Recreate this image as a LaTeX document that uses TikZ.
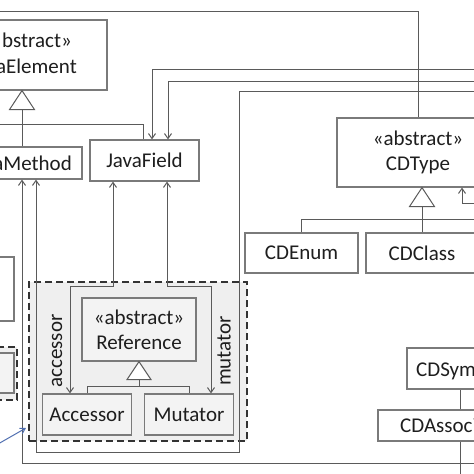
\documentclass[tikz,border=0pt]{standalone}
\usepackage{fontspec}
\setmainfont{Carlito}
\usetikzlibrary{arrows.meta,calc}
\definecolor{boxline}{HTML}{7A7A7A}
\definecolor{connline}{HTML}{5A5A5A}
\definecolor{txtcol}{HTML}{1E1E1E}
\definecolor{panelfill}{HTML}{EFEFEF}
\definecolor{boxfill}{HTML}{F3F3F3}
\definecolor{bluearrow}{HTML}{4F6EB0}
\definecolor{dashcol}{HTML}{333333}
\begin{document}
\begin{tikzpicture}[x=1pt,y=-1pt,
  box/.style={draw=boxline, line width=1.2pt, fill=white, inner sep=0pt, text=txtcol,
    font=\fontsize{21}{24.8}\selectfont, align=center},
  graybox/.style={box, fill=boxfill},
  txt/.style={inner sep=0pt, text=txtcol, font=\fontsize{21}{24.8}\selectfont},
  conn/.style={draw=connline, line width=1pt},
  arr/.style={conn, -{Straight Barb[length=5pt,width=7pt]}},
  biarr/.style={conn, {Straight Barb[length=5pt,width=7pt]}-{Straight Barb[length=5pt,width=7pt]}},
  panelbox/.style={draw=dashcol, line width=2pt, dash pattern=on 7pt off 4pt, fill=panelfill, inner sep=0pt},
  gentri/.style={draw=connline, line width=1pt, fill=white},
  bluearr/.style={draw=bluearrow, line width=1pt, -{Straight Barb[length=5pt,width=6pt]}}
]
\useasboundingbox (0,0) rectangle (474,474);
\clip (0,0) rectangle (474,474);

% containers
\node[panelbox, minimum width=218pt, minimum height=159pt] (panel) at (138,361.5) {};
\node[panelbox, minimum width=77pt, minimum height=53pt] (lpanel) at (-21.5,373.5) {};

% free ends
\coordinate (offTop) at (-5,11);
\coordinate (offGen) at (-5,124);
\coordinate (offR1) at (480,69);
\coordinate (offR2) at (480,81);
\coordinate (offR3) at (480,91);
\coordinate (bendR3) at (239,452);
\coordinate (offR4) at (480,463);
\coordinate (offR5) at (480,203);
\coordinate (offGen2) at (480,219);
\coordinate (offBot) at (460,480);
\coordinate (blueStart) at (-2,444);

% boxes
\node[box, minimum width=164pt, minimum height=70pt] (jelem) at (25,55) {};
\node[box, minimum width=120pt, minimum height=32pt] (jmeth) at (22,163) {};
\node[box, minimum width=109pt, minimum height=41pt] (jfield) at (144.5,160.5) {JavaField};
\node[box, minimum width=162pt, minimum height=69pt] (cdtype) at (418,152.5) {«abstract»\\CDType};
\node[box, minimum width=113pt, minimum height=40pt] (cdenum) at (301.5,253) {CDEnum};
\node[box, minimum width=112pt, minimum height=40pt] (cdclass) at (422,253) {CDClass};
\node[box, minimum width=133pt, minimum height=41pt] (cdsym) at (473.5,368.5) {};
\node[box, minimum width=162pt, minimum height=31pt] (cdassoc) at (459,425.5) {};
\node[box, minimum width=74pt, minimum height=64pt] (lbox) at (-23,289) {};
\node[graybox, minimum width=74pt, minimum height=40pt] (lgray) at (-23,373) {};

% visible text of cut boxes
\node[txt, anchor=base east] (jelemA) at (72,47) {bstract»};
\node[txt, anchor=base east] (jelemB) at (77,73) {aElement};
\node[txt, anchor=base east] (jmethT) at (72,170) {aMethod};
\node[txt, anchor=base west] (cdsymT) at (416,376) {CDSym};
\node[txt, anchor=base west] (cdassocT) at (400,432.5) {CDAssoci};

% connectors (drawn over the panel)
\draw[conn] (offTop) -| (cdtype.north);
\draw[conn] (offGen) -| ($(jfield.north)+(-1.5,0)$);
\draw[arr] (offR1) -| ($(jfield.north)+(7.5,0)$);
\draw[arr] (offR2) -| ($(jfield.north)+(23.5,0)$);
\draw[arr] (offR3) -| (bendR3) -| ($(jmeth.south)+(14,0)$);
\draw[arr] (offR4) -| (jmeth.south);
\draw[arr] (offR5) -| ($(cdtype.south)+(44,0)$);
\draw[conn] ($(cdassoc.north)+(1,0)$) -- ($(cdsym.south)+(-13.5,0)$);
\draw[conn] ($(cdassoc.south)+(1,0)$) -- (offBot);
\draw[bluearr] (blueStart) -- ($(panel.west)+(-2,66.5)$);

% generalization JavaElement
\draw[conn] (jmeth.north) -- (jmeth.north |- jelem.south);
\draw[gentri] (jmeth.north |- jelem.south) -- ++(-12.5,19) -- ++(25,0) -- cycle;

% generalization CDType
\coordinate (cdApex) at ($(cdtype.south)+(4,0)$);
\draw[conn] (cdclass.north) -- (cdApex);
\draw[conn] (cdenum.north) |- (offGen2);
\draw[gentri] (cdApex) -- ++(-12.5,19) -- ++(25,0) -- cycle;

% inner boxes of the panel
\node[graybox, minimum width=114pt, minimum height=63pt] (ref) at (139,329.5) {«abstract»\\Reference};
\node[graybox, minimum width=89pt, minimum height=41pt] (acc) at (87,414.5) {Accessor};
\node[graybox, minimum width=89pt, minimum height=41pt] (mut) at (189,414.5) {Mutator};

% generalization Reference
\draw[conn] (ref.south) -- ++(0,25) coordinate (refJoin);
\draw[conn] (acc.north) |- (refJoin) -| (mut.north);
\draw[gentri] (ref.south) -- ++(-12,18) -- ++(24,0) -- cycle;

% accessor / mutator associations
\draw[biarr] ($(jfield.south)+(-31.5,0)$) -- ++(0,105) -| ($(acc.north)+(-17,0)$);
\draw[biarr] ($(jfield.south)+(22.5,0)$) -- ++(0,105) -| ($(mut.north)+(22,0)$);
\node[txt, rotate=90] (accL) at (57,351) {accessor};
\node[txt, rotate=90] (mutL) at (224,351) {mutator};
\end{tikzpicture}
\end{document}
